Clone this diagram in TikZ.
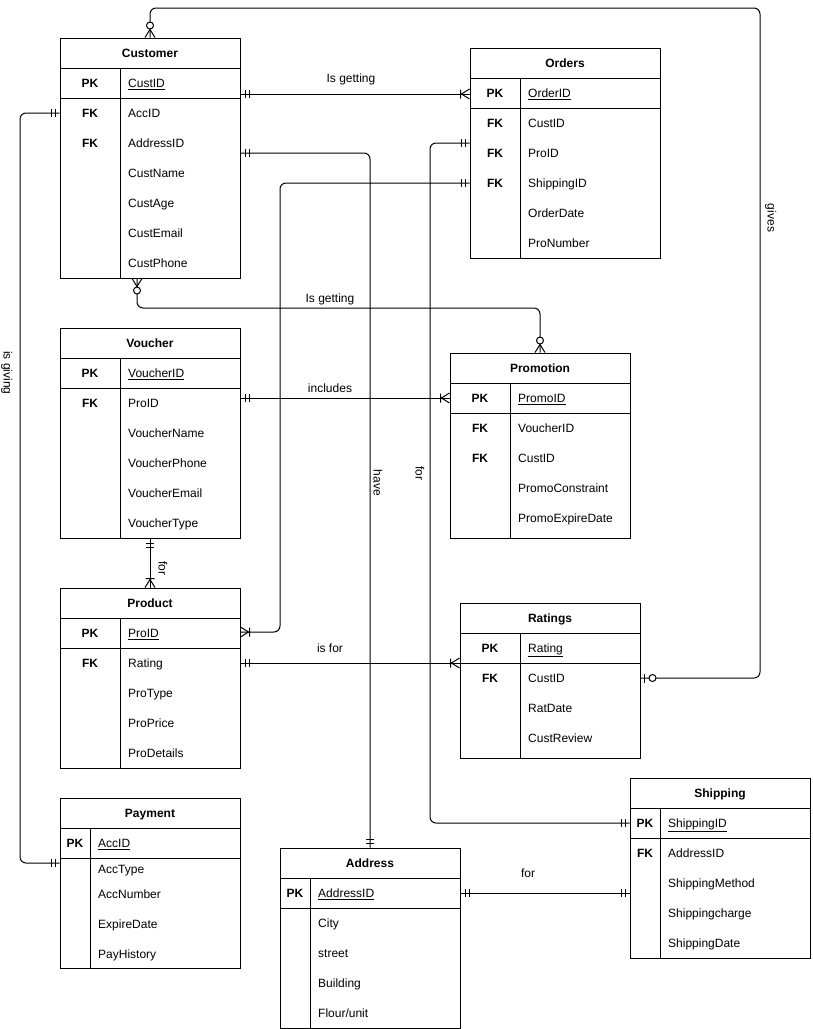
\documentclass[tikz,border=0pt]{standalone}
\usepackage{fontspec}
\setmainfont{Liberation Sans}
\begin{document}
\begin{tikzpicture}[x=1pt,y=-1pt,
  every node/.style={font=\fontsize{12}{14}\selectfont, inner sep=0pt, text height=8.8pt, text depth=0pt},
  tblbox/.style={draw, line width=1pt, fill=white, rectangle, text height=, text depth=},
  tblline/.style={line width=1pt},
  ttl/.style={font=\fontsize{12}{14}\selectfont\bfseries},
  keyc/.style={font=\fontsize{12}{14}\selectfont\bfseries},
  fld/.style={anchor=west},
  conn/.style={line width=1pt, rounded corners=6pt},
  mk/.style={line width=1pt},
  lbl/.style={font=\fontsize{12}{14}\selectfont},
  pics/mandone/.style={code={\draw[mk] (-4.5,-4)--(-4.5,4) (-8.5,-4)--(-8.5,4);}},
  pics/onemany/.style={code={\draw[mk] (-9,-4.5)--(-9,4.5) (0,-5)--(-8,0)--(0,5);}},
  pics/zeromany/.style={code={\draw[mk] (0,-5)--(-8,0)--(0,5); \draw[mk,fill=white] (-12,0) circle (3.5);}},
  pics/zeroone/.style={code={\draw[mk] (-4,-4.5)--(-4,4.5); \draw[mk,fill=white] (-12,0) circle (3.5);}},
]
\newcommand\ertable[7]{%
  \node[tblbox, minimum width={(#4-#2)*1pt}, minimum height={(#5-#3)*1pt}] (#1) at ({(#2+#4)/2},{(#3+#5)/2}) {};
  \draw[tblline] (#2,#3+30) -- (#4,#3+30) (#2,#3+60) -- (#4,#3+60) (#6,#3+30) -- (#6,#5);
  \node[ttl] (#1-t) at ({(#2+#4)/2},#3+15) {#7};
}
\useasboundingbox (0,0) rectangle (812,1029);

% ---------- Customer
\ertable{cust}{60}{38}{240}{278}{120}{Customer}
\node[keyc] (cust-pk) at (90,83) {PK};
\node[keyc] (cust-fk1) at (90,113) {FK};
\node[keyc] (cust-fk2) at (90,143) {FK};
\node[fld] (cust-f0) at (128,83) {\underline{CustID}};
\node[fld] (cust-f1) at (128,113) {AccID};
\node[fld] (cust-f2) at (128,143) {AddressID};
\node[fld] (cust-f3) at (128,173) {CustName};
\node[fld] (cust-f4) at (128,203) {CustAge};
\node[fld] (cust-f5) at (128,233) {CustEmail};
\node[fld] (cust-f6) at (128,263) {CustPhone};

% ---------- Orders
\ertable{ord}{470}{48}{660}{258}{520}{Orders}
\node[keyc] (ord-pk) at (495,93) {PK};
\node[keyc] (ord-fk1) at (495,123) {FK};
\node[keyc] (ord-fk2) at (495,153) {FK};
\node[keyc] (ord-fk3) at (495,183) {FK};
\node[fld] (ord-f0) at (528,93) {\underline{OrderID}};
\node[fld] (ord-f1) at (528,123) {CustID};
\node[fld] (ord-f2) at (528,153) {ProID};
\node[fld] (ord-f3) at (528,183) {ShippingID};
\node[fld] (ord-f4) at (528,213) {OrderDate};
\node[fld] (ord-f5) at (528,243) {ProNumber};

% ---------- Voucher
\ertable{vou}{60}{328}{240}{538}{120}{Voucher}
\node[keyc] (vou-pk) at (90,373) {PK};
\node[keyc] (vou-fk1) at (90,403) {FK};
\node[fld] (vou-f0) at (128,373) {\underline{VoucherID}};
\node[fld] (vou-f1) at (128,403) {ProID};
\node[fld] (vou-f2) at (128,433) {VoucherName};
\node[fld] (vou-f3) at (128,463) {VoucherPhone};
\node[fld] (vou-f4) at (128,493) {VoucherEmail};
\node[fld] (vou-f5) at (128,523) {VoucherType};

% ---------- Promotion
\ertable{pro}{450}{353}{630}{538}{510}{Promotion}
\node[keyc] (pro-pk) at (480,398) {PK};
\node[keyc] (pro-fk1) at (480,428) {FK};
\node[keyc] (pro-fk2) at (480,458) {FK};
\node[fld] (pro-f0) at (518,398) {\underline{PromoID}};
\node[fld] (pro-f1) at (518,428) {VoucherID};
\node[fld] (pro-f2) at (518,458) {CustID};
\node[fld] (pro-f3) at (518,488) {PromoConstraint};
\node[fld] (pro-f4) at (518,518) {PromoExpireDate};

% ---------- Product
\ertable{prod}{60}{588}{240}{768}{120}{Product}
\node[keyc] (prod-pk) at (90,633) {PK};
\node[keyc] (prod-fk1) at (90,663) {FK};
\node[fld] (prod-f0) at (128,633) {\underline{ProID}};
\node[fld] (prod-f1) at (128,663) {Rating};
\node[fld] (prod-f2) at (128,693) {ProType};
\node[fld] (prod-f3) at (128,723) {ProPrice};
\node[fld] (prod-f4) at (128,753) {ProDetails};

% ---------- Ratings
\ertable{rat}{460}{603}{640}{758}{520}{Ratings}
\node[keyc] (rat-pk) at (490,648) {PK};
\node[keyc] (rat-fk1) at (490,678) {FK};
\node[fld] (rat-f0) at (528,648) {\underline{Rating}};
\node[fld] (rat-f1) at (528,678) {CustID};
\node[fld] (rat-f2) at (528,708) {RatDate};
\node[fld] (rat-f3) at (528,738) {CustReview};

% ---------- Payment
\ertable{pay}{60}{798}{240}{968}{90}{Payment}
\node[keyc] (pay-pk) at (75,843) {PK};
\node[fld] (pay-f0) at (98,843) {\underline{AccID}};
\node[fld] (pay-f1) at (98,869) {AccType};
\node[fld] (pay-f2) at (98,894) {AccNumber};
\node[fld] (pay-f3) at (98,924) {ExpireDate};
\node[fld] (pay-f4) at (98,954) {PayHistory};

% ---------- Address
\ertable{adr}{280}{848}{460}{1028}{310}{Address}
\node[keyc] (adr-pk) at (295,893) {PK};
\node[fld] (adr-f0) at (318,893) {\underline{AddressID}};
\node[fld] (adr-f1) at (318,923) {City};
\node[fld] (adr-f2) at (318,953) {street};
\node[fld] (adr-f3) at (318,983) {Building};
\node[fld] (adr-f4) at (318,1013) {Flour/unit};

% ---------- Shipping
\ertable{shp}{630}{778}{810}{958}{660}{Shipping}
\node[keyc] (shp-pk) at (645,823) {PK};
\node[keyc] (shp-fk1) at (645,853) {FK};
\node[fld] (shp-f0) at (668,823) {\underline{ShippingID}};
\node[fld] (shp-f1) at (668,853) {AddressID};
\node[fld] (shp-f2) at (668,883) {ShippingMethod};
\node[fld] (shp-f3) at (668,913) {Shippingcharge};
\node[fld] (shp-f4) at (668,943) {ShippingDate};

% ---------- connector end points
\coordinate (c1a) at (cust.east |- 0,94);
\coordinate (c1b) at (ord.west |- 0,94);
\coordinate (c2a) at (cust.east |- 0,153);
\coordinate (c2b) at (370,0 |- adr.north);
\coordinate (c3a) at (ord.west |- 0,143);
\coordinate (c3b) at (shp.west |- 0,823);
\coordinate (c4a) at (ord.west |- 0,183);
\coordinate (c4b) at (prod.east |- 0,632);
\coordinate (c5a) at (137,0 |- cust.south);
\coordinate (c5b) at (540,0 |- pro.north);
\coordinate (c6a) at (vou.east |- 0,398);
\coordinate (c6b) at (pro.west |- 0,398);
\coordinate (c7a) at (vou.south);
\coordinate (c7b) at (prod.north);
\coordinate (c8a) at (prod.east |- 0,663);
\coordinate (c8b) at (rat.west |- 0,663);
\coordinate (c9a) at (rat.east |- 0,678);
\coordinate (c9b) at (cust.north);
\coordinate (c10a) at (cust.west |- 0,113);
\coordinate (c10b) at (pay.west |- 0,863);
\coordinate (c11a) at (adr.east |- 0,893);
\coordinate (c11b) at (shp.west |- 0,893);

% ---------- connectors
\draw[conn] (c1a) -- (c1b);
\node[lbl] (l1) at (351,78) {Is getting};

\draw[conn] (c2a) -- (370,153) -- (c2b);
\node[lbl, rotate=-90] (l2) at (378,483) {have};

\draw[conn] (c3a) -- (430,143) -- (430,823) -- (c3b);
\node[lbl, rotate=-90] (l3) at (420,473) {for};

\draw[conn] (c4a) -- (280,183) -- (280,632) -- (c4b);

\draw[conn] (c5a) -- (137,308) -- (540,308) -- (c5b);
\node[lbl] (l5) at (330,298) {Is getting};

\draw[conn] (c6a) -- (c6b);
\node[lbl] (l6) at (330,388) {includes};

\draw[conn] (c7a) -- (c7b);
\node[lbl, rotate=-90] (l7) at (163,568) {for};

\draw[conn] (c8a) -- (c8b);
\node[lbl] (l8) at (330,648) {is for};

\draw[conn] (c9a) -- (760,678) -- (760,8) -- (150,8) -- (c9b);
\node[lbl, rotate=-90] (l9) at (772,218) {gives};

\draw[conn] (c10a) -- (20,113) -- (20,863) -- (c10b);
\node[lbl, rotate=-90] (l10) at (8,373) {is giving};

\draw[conn] (c11a) -- (c11b);
\node[lbl] (l11) at (528,873) {for};

% ---------- cardinality markers
\pic[rotate=180] at (c1a) {mandone};
\pic at (c1b) {onemany};
\pic[rotate=180] at (c2a) {mandone};
\pic[rotate=-90] at (c2b) {mandone};
\pic at (c3a) {mandone};
\pic at (c3b) {mandone};
\pic at (c4a) {mandone};
\pic[rotate=180] at (c4b) {onemany};
\pic[rotate=90] at (c5a) {zeromany};
\pic[rotate=-90] at (c5b) {zeromany};
\pic[rotate=180] at (c6a) {mandone};
\pic at (c6b) {onemany};
\pic[rotate=90] at (c7a) {mandone};
\pic[rotate=-90] at (c7b) {onemany};
\pic[rotate=180] at (c8a) {mandone};
\pic at (c8b) {onemany};
\pic[rotate=180] at (c9a) {zeroone};
\pic[rotate=-90] at (c9b) {zeromany};
\pic at (c10a) {mandone};
\pic at (c10b) {mandone};
\pic[rotate=180] at (c11a) {mandone};
\pic at (c11b) {mandone};
\end{tikzpicture}
\end{document}
